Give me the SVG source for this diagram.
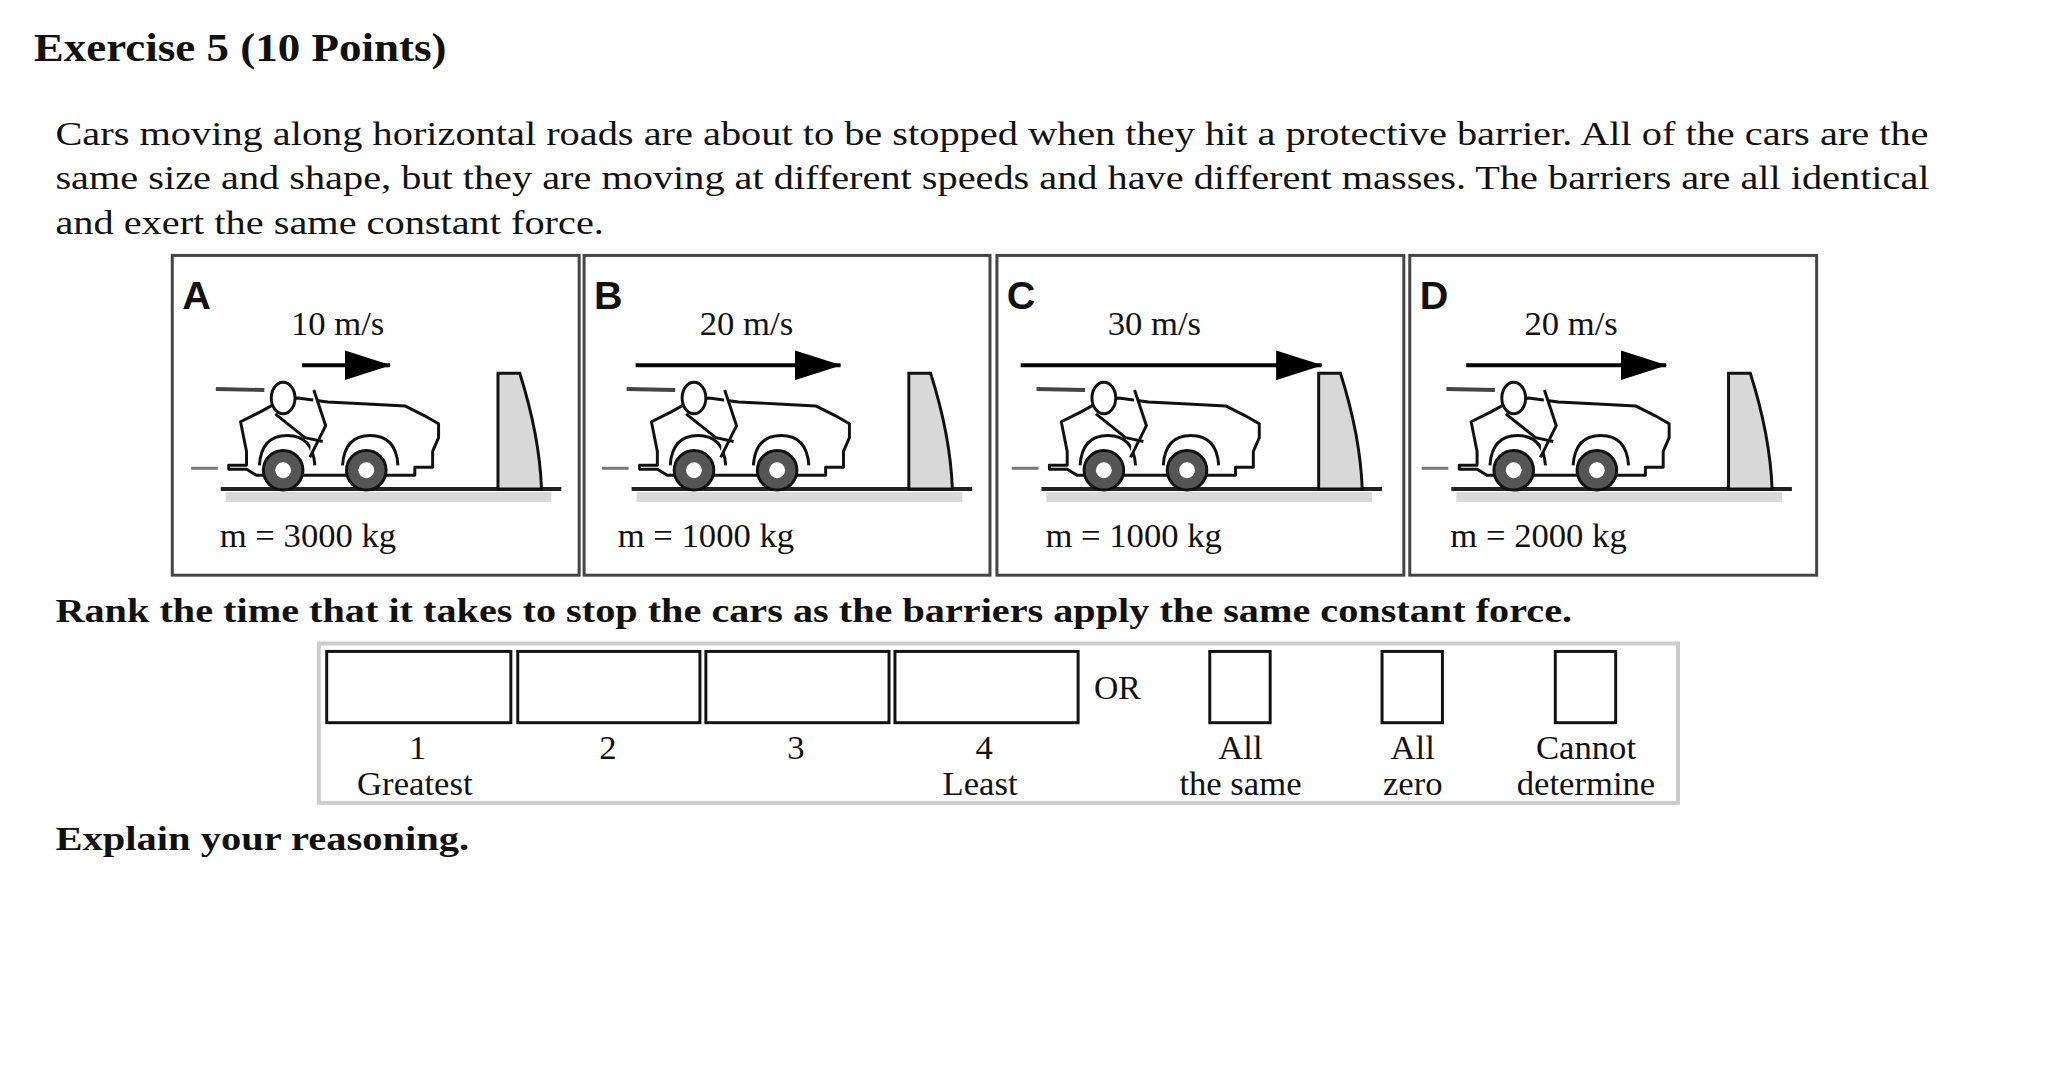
<svg xmlns="http://www.w3.org/2000/svg" width="2060" height="1072" viewBox="0 0 2060 1072">
<style>
.t{font-family:"Liberation Serif",serif;fill:#111}
.b{font-weight:bold}
.p{font-size:35px}
.m{font-size:35px;text-anchor:middle}
.L{font-family:"Liberation Sans",sans-serif;font-weight:bold;font-size:40px;fill:#111}
.panel{fill:#fff;stroke:#444;stroke-width:3}
.box{fill:#fff;stroke:#111;stroke-width:3}
.car{fill:#fff;stroke:#111;stroke-width:3;stroke-linejoin:round}
</style>
<defs>
<marker id="ah" markerWidth="47" markerHeight="30" refX="46" refY="15" orient="auto" markerUnits="userSpaceOnUse" viewBox="0 0 47 30">
<path d="M0,0 L47,15 L0,30 Z" fill="#000"/>
</marker>
<g id="scene">
<rect x="228" y="497" width="329" height="10" fill="#d9d9d9"/>
<line x1="223" y1="494" x2="567" y2="494" stroke="#222" stroke-width="4"/>
<path d="M503,494 V377 H525 Q545,440 547,494 Z" fill="#d8d8d8" stroke="#111" stroke-width="3"/>
<line x1="218" y1="393" x2="267" y2="394" stroke="#444" stroke-width="4"/>
<line x1="193" y1="473" x2="220" y2="473" stroke="#777" stroke-width="3"/>
<path class="car" d="M231,470 h18 v-14 l-6,-30 l20,-10 l18,-10 l20,-4 l30,4 l40,2 l38,2 l20,10 l14,8 v14 l-6,14 v16 h-18 v8 h-160 l-10,-6 h-18 z"/>
<path class="car" d="M262,470 q2,-30 28,-30 q26,0 28,30 M346,470 q2,-30 28,-30 q26,0 28,30" fill="none"/>
<ellipse class="car" cx="286" cy="402" rx="12" ry="16"/>
<path class="car" d="M317,394 l12,36 l-16,32" fill="none"/>
<path class="car" d="M278,418 l30,24 l18,4" fill="none"/>
<circle cx="286" cy="475" r="20" fill="#555" stroke="#111" stroke-width="3"/>
<circle cx="286" cy="475" r="8" fill="#fff"/>
<circle cx="370" cy="475" r="20" fill="#555" stroke="#111" stroke-width="3"/>
<circle cx="370" cy="475" r="8" fill="#fff"/>
</g>
</defs>
<g transform="scale(0.99)">
<text class="t b" x="34" y="62" font-size="40" textLength="417" lengthAdjust="spacingAndGlyphs">Exercise 5 (10 Points)</text>
<text class="t p" x="56" y="146" textLength="1892" lengthAdjust="spacingAndGlyphs">Cars moving along horizontal roads are about to be stopped when they hit a protective barrier. All of the cars are the</text>
<text class="t p" x="56" y="191" textLength="1893" lengthAdjust="spacingAndGlyphs">same size and shape, but they are moving at different speeds and have different masses. The barriers are all identical</text>
<text class="t p" x="56" y="236" textLength="554" lengthAdjust="spacingAndGlyphs">and exert the same constant force.</text>
<g id="panelA">
<rect class="panel" x="174" y="258" width="411" height="323"/>
<text class="L" x="184" y="312">A</text>
<text class="t m" x="341" y="338">10 m/s</text>
<line x1="305" y1="369" x2="394" y2="369" stroke="#000" stroke-width="4" marker-end="url(#ah)"/>
<use href="#scene"/>
<text class="t p" x="222" y="553">m = 3000 kg</text>
</g>
<g id="panelB">
<rect class="panel" x="590" y="258" width="410" height="323"/>
<text class="L" x="600" y="312">B</text>
<text class="t m" x="754" y="338">20 m/s</text>
<line x1="642" y1="369" x2="849" y2="369" stroke="#000" stroke-width="4" marker-end="url(#ah)"/>
<use href="#scene" x="415"/>
<text class="t p" x="624" y="553">m = 1000 kg</text>
</g>
<g id="panelC">
<rect class="panel" x="1007" y="258" width="411" height="323"/>
<text class="L" x="1017" y="312">C</text>
<text class="t m" x="1166" y="338">30 m/s</text>
<line x1="1031" y1="369" x2="1335" y2="369" stroke="#000" stroke-width="4" marker-end="url(#ah)"/>
<use href="#scene" x="829"/>
<text class="t p" x="1056" y="553">m = 1000 kg</text>
</g>
<g id="panelD">
<rect class="panel" x="1424" y="258" width="411" height="323"/>
<text class="L" x="1434" y="312">D</text>
<text class="t m" x="1587" y="338">20 m/s</text>
<line x1="1481" y1="369" x2="1683" y2="369" stroke="#000" stroke-width="4" marker-end="url(#ah)"/>
<use href="#scene" x="1243"/>
<text class="t p" x="1465" y="553">m = 2000 kg</text>
</g>
<text class="t b p" x="56" y="628" textLength="1532" lengthAdjust="spacingAndGlyphs">Rank the time that it takes to stop the cars as the barriers apply the same constant force.</text>
<g id="ranking">
<rect x="322" y="650" width="1373" height="161" fill="#fff" stroke="#ccc" stroke-width="4"/>
<rect class="box" x="330" y="658" width="186" height="72"/>
<rect class="box" x="523" y="658" width="184" height="72"/>
<rect class="box" x="713" y="658" width="185" height="72"/>
<rect class="box" x="904" y="658" width="185" height="72"/>
<text class="t" x="1105" y="706" font-size="34">OR</text>
<rect class="box" x="1222" y="658" width="61" height="72"/>
<rect class="box" x="1396" y="658" width="61" height="72"/>
<rect class="box" x="1571" y="658" width="61" height="72"/>
<text class="t m" x="422" y="767">1</text>
<text class="t m" x="614" y="767">2</text>
<text class="t m" x="804" y="767">3</text>
<text class="t m" x="994" y="767">4</text>
<text class="t m" x="419" y="803">Greatest</text>
<text class="t m" x="990" y="803">Least</text>
<text class="t m" x="1253" y="767">All</text>
<text class="t m" x="1253" y="803">the same</text>
<text class="t m" x="1427" y="767">All</text>
<text class="t m" x="1427" y="803">zero</text>
<text class="t m" x="1602" y="767">Cannot</text>
<text class="t m" x="1602" y="803">determine</text>
</g>
<text class="t b p" x="56" y="859" textLength="418" lengthAdjust="spacingAndGlyphs">Explain your reasoning.</text>
</g>
</svg>
